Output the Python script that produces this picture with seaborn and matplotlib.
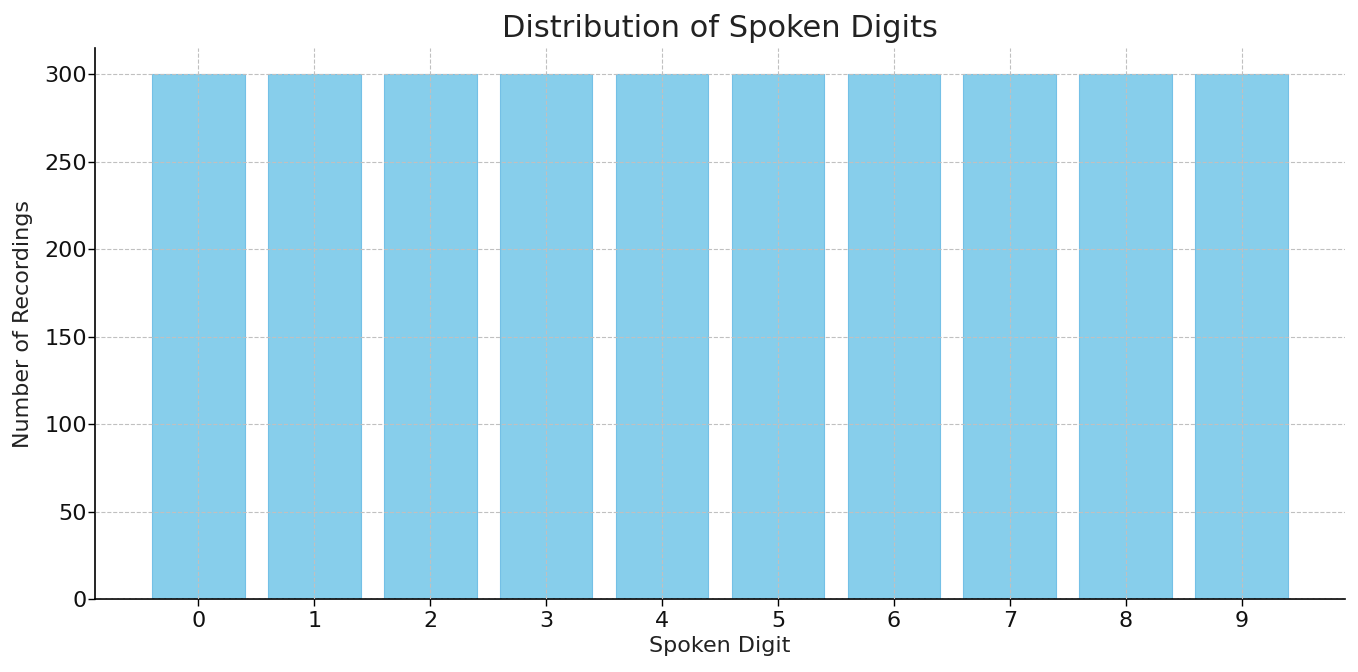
import numpy as np
import pandas as pd
import matplotlib
matplotlib.use("Agg")
import matplotlib.pyplot as plt
import seaborn as sns

# Data
digits = ["0", "1", "2", "3", "4", "5", "6", "7", "8", "9"]
counts = [300, 300, 300, 300, 300, 300, 300, 300, 300, 300]

df = pd.DataFrame({"digit": digits, "count": counts})

sns.set_style("white")
plt.rcParams["font.family"] = ["DejaVu Sans"]

fig = plt.figure(figsize=(13.58, 6.72), dpi=100)
ax = fig.add_axes([0.07, 0.1086, 0.9204, 0.82])

sns.barplot(data=df, x="digit", y="count", color="#87CEEB", saturation=1,
            width=0.8, edgecolor="#74c0e6", linewidth=0.8, ax=ax)

# default matplotlib-like margins
ax.set_xlim(-0.89, 9.89)
ax.set_ylim(0, 315)
ax.set_yticks(np.arange(0, 301, 50))

ax.set_axisbelow(False)
ax.grid(True, linestyle="--", color="#c0c0c0", linewidth=0.8)

ax.spines["top"].set_visible(False)
ax.spines["right"].set_visible(False)
for s in ["left", "bottom"]:
    ax.spines[s].set_linewidth(1.2)
    ax.spines[s].set_color("black")

ax.tick_params(axis="both", labelsize=16, length=5, width=1, color="black",
               labelcolor="#111111", direction="out", bottom=True, left=True)
ax.tick_params(axis="y", pad=1)
ax.set_title("Distribution of Spoken Digits", fontsize=22, color="#222222", pad=8)
ax.set_xlabel("Spoken Digit", fontsize=16, color="#222222")
ax.set_ylabel("Number of Recordings", fontsize=16, color="#222222", labelpad=8)

fig.savefig("out.png", dpi=100)
